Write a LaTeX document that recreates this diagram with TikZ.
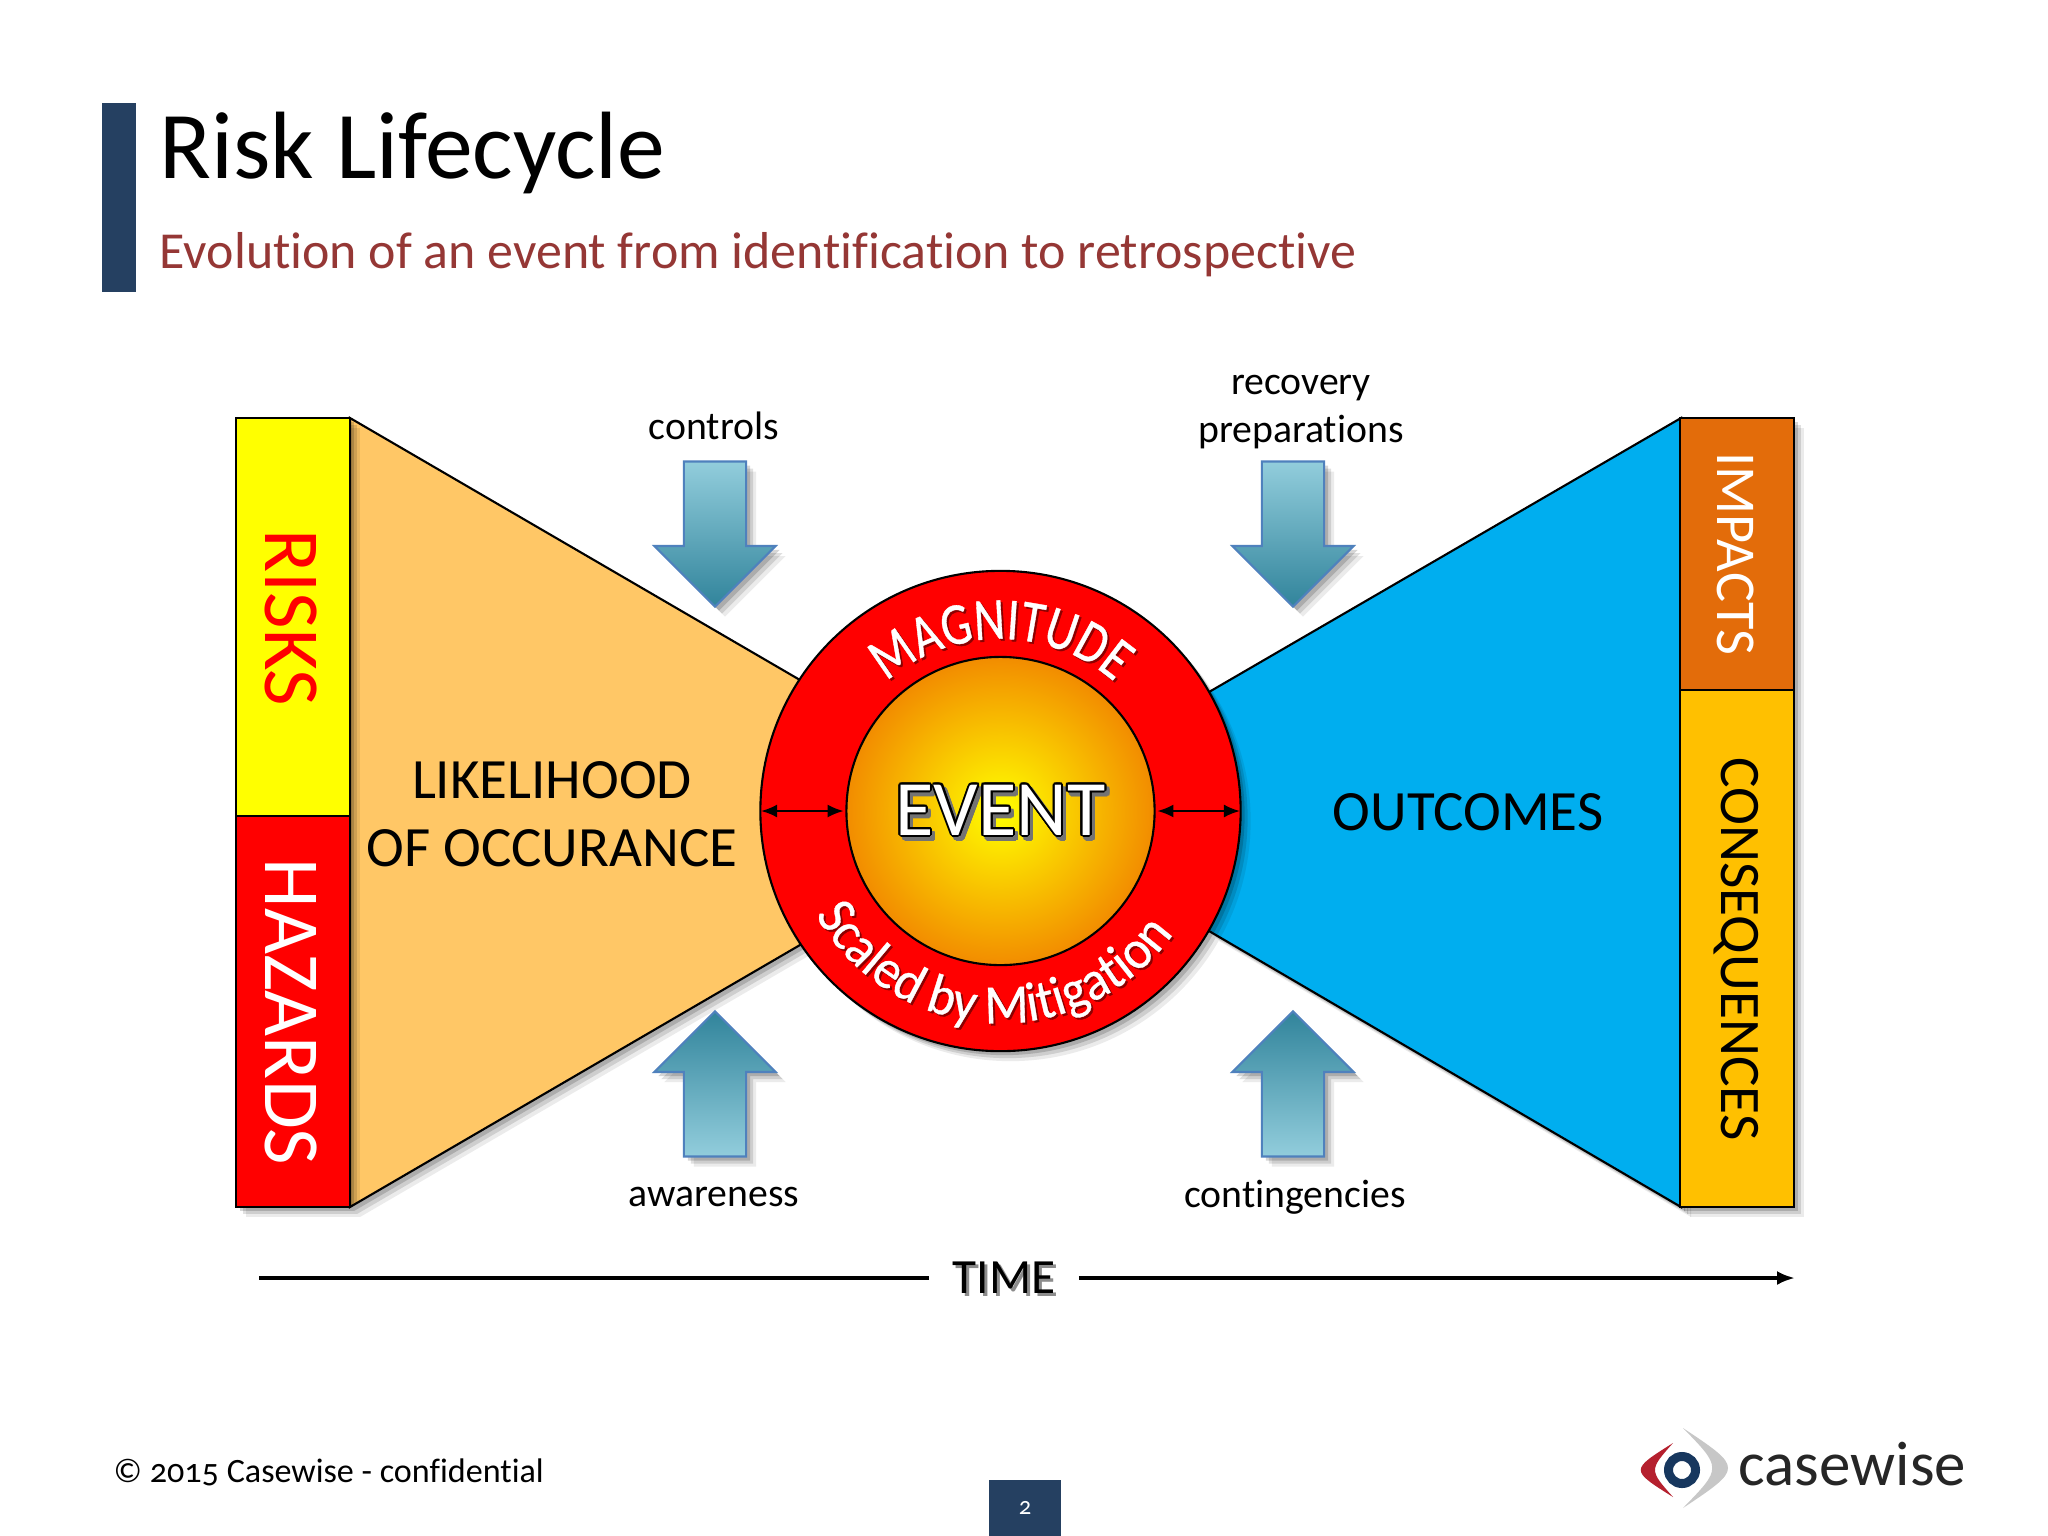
\documentclass[tikz,border=0pt]{standalone}
\usepackage{fontspec}
\setmainfont[Numbers=OldStyle, Ligatures=CommonOff]{Carlito}
\newfontfamily\magfamily[FakeStretch=0.8, FakeBold=0.6, Ligatures=CommonOff]{Carlito}
\newfontfamily\scaledfamily[FakeStretch=0.93, FakeBold=0.6, Ligatures=CommonOff]{Carlito}
\usepackage{contour}
\usetikzlibrary{shapes, shapes.arrows, arrows.meta, positioning, shadows, decorations.text}
\contourlength{0.55pt}
\definecolor{titlebar}{HTML}{254061}
\definecolor{subtitlered}{HTML}{953735}
\definecolor{wedgeorange}{HTML}{FFC766}
\definecolor{wedgeblue}{HTML}{00AEEF}
\definecolor{impactorange}{HTML}{E36C0A}
\definecolor{conseqamber}{HTML}{FFC000}
\definecolor{arrowtop}{HTML}{92CDDC}
\definecolor{arrowbottom}{HTML}{31849B}
\definecolor{arrowedge}{HTML}{4F81BD}
\definecolor{logonavy}{HTML}{17375E}
\definecolor{logored}{HTML}{B5202E}
\definecolor{pureyellow}{RGB}{255,255,0}
\definecolor{eventrim}{HTML}{F28C00}
\tikzstyle{softshadow}=[drop shadow={shadow xshift=0.1cm, shadow yshift=-0.1cm, fill=black, opacity=0.08}, drop shadow={shadow xshift=0.07cm, shadow yshift=-0.07cm, fill=black, opacity=0.12}, drop shadow={shadow xshift=0.04cm, shadow yshift=-0.04cm, fill=black, opacity=0.16}]
\tikzstyle{bar}=[draw=black, semithick, minimum width=1.14cm, inner sep=0pt]
\tikzstyle{barlabel}=[font=\fontsize{22.6pt}{26pt}\selectfont, rotate=-90, inner sep=0pt]
\tikzstyle{wedgelabel}=[font=\fontsize{16.2pt}{19.3pt}\selectfont, align=center, inner sep=0pt]
\tikzstyle{smalllabel}=[font=\fontsize{11.3pt}{13.4pt}\selectfont, align=center, inner sep=0pt]
\tikzstyle{blockarrow}=[single arrow, draw=arrowedge, semithick, inner sep=0.30cm, minimum height=1.45cm, minimum width=1.19cm, single arrow head extend=0.295cm, single arrow head indent=0pt, softshadow]
\tikzstyle{downarrow}=[blockarrow, shape border rotate=270, top color=arrowtop, bottom color=arrowbottom]
\tikzstyle{uparrow}=[blockarrow, shape border rotate=90, top color=arrowbottom, bottom color=arrowtop]
\tikzstyle{magarrow}=[<->, >={Latex[length=0.16cm, width=0.13cm]}, line width=0.6pt, black, shorten <=0.5pt, shorten >=0.5pt]
\tikzstyle{timeline}=[line width=1.3pt, black]
\newcommand{\drawRingLabel}[5]{
    \path[postaction={decorate}, decoration={text along path, text align=center, text={|#5\color{red!55!black}|#4}}] ([shift={(2,-2)}]#2:#1) arc[start angle=#2, end angle=#3, radius=#1];
    \path[postaction={decorate}, decoration={text along path, text align=center, text={|#5\color{white}|#4}}] (#2:#1) arc[start angle=#2, end angle=#3, radius=#1];
}
\begin{document}
\begin{tikzpicture}[x=0.01cm, y=-0.01cm]
    \useasboundingbox (0,0) rectangle (2048,1536);
    \fill[white] (0,0) rectangle (2048,1536);

    % Heading
    \fill[titlebar] (102,103) rectangle (136,292);
    \node[anchor=base west, inner sep=0pt, font=\fontsize{27.2pt}{30pt}\selectfont] (title) at (159,178) {Risk Lifecycle};
    \node[anchor=base west, inner sep=0pt, text=subtitlered, font=\fontsize{14.76pt}{20pt}\selectfont] (subtitle) at (159,268) {Evolution of an event from identification to retrospective};

    % Wedges either side of the event
    \draw[fill=wedgeorange, semithick, softshadow] (350,418) -- (800,680) -- (800,945) -- (350,1207) -- cycle;
    \draw[fill=wedgeblue, semithick, softshadow] (1681,418) -- (1209,692) -- (1209,931) -- (1681,1207) -- cycle;
    \node[wedgelabel] (likelihood) at (552,814) {LIKELIHOOD\\OF OCCURANCE};
    \node[wedgelabel] (outcomes) at (1468,812) {OUTCOMES};

    % Left bars
    \node[bar, fill=pureyellow, minimum height=3.98cm, softshadow] (risksbar) at (293,617) {};
    \node[bar, fill=red, minimum height=3.91cm, softshadow] (hazardsbar) at (293,1011.5) {};
    \node[barlabel, text=red] (risks) at (291,618) {RISKS};
    \node[barlabel, text=white] (hazards) at (291,1012) {HAZARDS};

    % Right bars
    \node[bar, fill=impactorange, minimum height=2.72cm, softshadow] (impactsbar) at (1737,554) {};
    \node[bar, fill=conseqamber, minimum height=5.17cm, softshadow] (conseqbar) at (1737,948.5) {};
    \node[barlabel, text=white, font=\fontsize{16pt}{20pt}\selectfont] (impacts) at (1736,554) {IMPACTS};
    \node[barlabel, text=black, font=\fontsize{16.3pt}{20pt}\selectfont] (conseq) at (1736,949) {CONSEQUENCES};

    % Block arrows
    \node[downarrow] (controlsarrow) at (715,518.5) {};
    \node[downarrow] (recoveryarrow) at (1293,518.5) {};
    \node[uparrow] (awarenessarrow) at (715,1099.5) {};
    \node[uparrow] (contingarrow) at (1293,1099.5) {};
    \node[smalllabel] (controls) at (714,426) {controls};
    \node[smalllabel] (recovery) at (1301,412) {recovery\\preparations};
    \node[smalllabel] (awareness) at (714,1197) {awareness};
    \node[smalllabel] (conting) at (1295,1197) {contingencies};

    % Ring and event
    \node[circle, draw=black, semithick, fill=red, minimum size=4.8cm, inner sep=0pt, softshadow] (ring) at (1000.5,811) {};
    \node[circle, draw=black, semithick, inner color=pureyellow, outer color=eventrim, minimum size=3.08cm, inner sep=0pt] (event) at (1000.5,811) {};
    \node[inner sep=0pt, text=black!55, font=\fontsize{22.3pt}{26pt}\selectfont] (eventshadow) at (1004,815) {\contour{black!55}{EVENT}};
    \node[inner sep=0pt, text=white, font=\fontsize{22.3pt}{26pt}\selectfont] (eventlabel) at (1000.5,811) {\contour{black}{EVENT}};
    \draw[magarrow] (ring.west) -- (event.west);
    \draw[magarrow] (event.east) -- (ring.east);

    % Curved texts
    \begin{scope}[shift={(1000.5,811)}, y=0.01cm]
        \drawRingLabel{172}{140}{40}{MAGNITUDE}{\magfamily\fontsize{17pt}{20pt}\selectfont}
        \drawRingLabel{212}{201}{333}{Scaled by Mitigation}{\scaledfamily\fontsize{15.8pt}{19pt}\selectfont}
    \end{scope}

    % Time line
    \coordinate (timestart) at (259,1278);
    \coordinate (timeend) at (1795,1278);
    \node[text=black!45, font=\fontsize{14pt}{17pt}\selectfont, inner sep=0pt] (timeshadow) at (1007,1281) {TIME};
    \node[font=\fontsize{14pt}{17pt}\selectfont, inner xsep=0.23cm, inner ysep=0pt] (time) at (1004,1278) {TIME};
    \draw[timeline] (timestart) -- (time);
    \draw[timeline, -{Latex[length=0.18cm, width=0.14cm]}] (time) -- (timeend);

    % Footer
    \node[anchor=west, inner sep=0pt, font=\fontsize{9.7pt}{13pt}\selectfont] (copyright) at (113,1472) {\textcopyright{} 2015 Casewise - confidential};
    \node[fill=titlebar, text=white, minimum width=0.72cm, minimum height=0.56cm, inner sep=0pt, font=\fontsize{7pt}{9pt}\selectfont] (pagebox) at (1025,1508) {2};

    % Logo
    \fill[logored] (1673,1443) .. controls (1630,1470) .. (1673,1497) .. controls (1649,1470) .. cycle;
    \fill[black!22] (1683,1428) .. controls (1743,1468) .. (1683,1508) .. controls (1722,1468) .. cycle;
    \node[circle, draw=logonavy, line width=0.09cm, minimum size=0.27cm, inner sep=0pt] (logoeye) at (1682,1470) {};
    \node[anchor=base west, inner sep=0pt, text=black!85, font=\fontsize{17.9pt}{20pt}\selectfont] (logotext) at (1738,1485) {casewise};
\end{tikzpicture}
\end{document}
